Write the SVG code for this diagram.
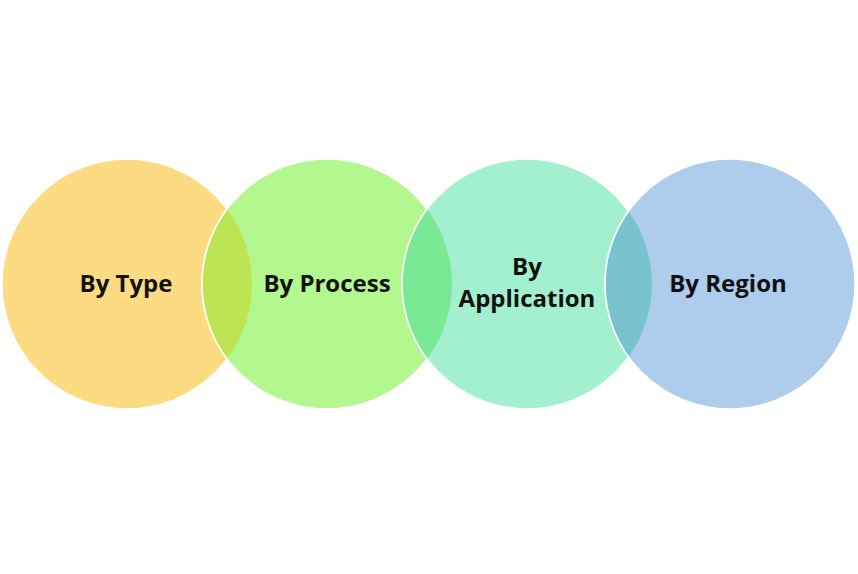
<svg xmlns="http://www.w3.org/2000/svg" width="858" height="574" viewBox="0 0 858 574">
<style>
.c{stroke:#ffffff;stroke-width:1.5}
.t{font-family:"Open Sans","Liberation Sans",sans-serif;font-weight:bold;font-size:24px;fill:#111;text-anchor:middle}
</style>
<defs>
<clipPath id="k1"><circle cx="127" cy="284" r="125"/></clipPath>
<clipPath id="k2"><circle cx="327" cy="284" r="125"/></clipPath>
<clipPath id="k3"><circle cx="527" cy="284" r="125"/></clipPath>
</defs>
<rect width="858" height="574" fill="#fff"/>
<g id="n1"><circle class="c" cx="127" cy="284" r="125" fill="#FCDB82"/></g>
<g id="n2"><circle class="c" cx="327" cy="284" r="125" fill="#B3F78F"/></g>
<g id="n3"><circle class="c" cx="527" cy="284" r="125" fill="#A2F0CF"/></g>
<g id="n4"><circle class="c" cx="730" cy="284" r="125" fill="#AECCEB"/></g>
<g id="overlaps">
<circle class="c" cx="327" cy="284" r="125" fill="#BDE553" clip-path="url(#k1)"/>
<circle class="c" cx="527" cy="284" r="125" fill="#79E996" clip-path="url(#k2)"/>
<circle class="c" cx="730" cy="284" r="125" fill="#79C3CE" clip-path="url(#k3)"/>
</g>
<g id="labels">
<text class="t" x="126" y="292">By Type</text>
<text class="t" x="327" y="292">By Process</text>
<text class="t" x="527" y="275">By</text>
<text class="t" x="527" y="307">Application</text>
<text class="t" x="728" y="292">By Region</text>
</g>
</svg>
